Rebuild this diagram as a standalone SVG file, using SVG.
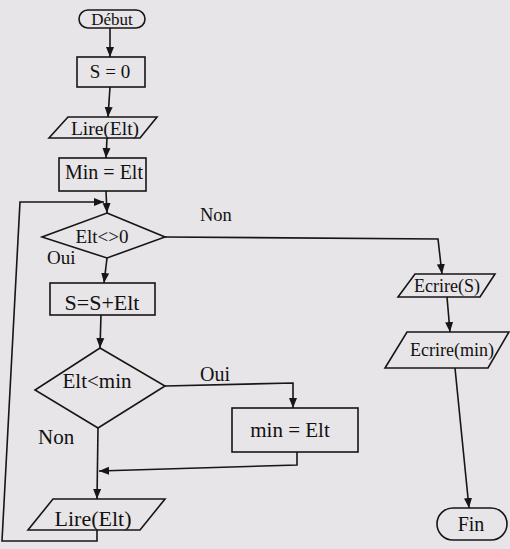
<svg xmlns="http://www.w3.org/2000/svg" width="510" height="549" viewBox="0 0 510 549">
<style>
.bg{fill:#e7e5e7}
.shape{fill:none;stroke:#161616;stroke-width:1.6}
.conn{fill:none;stroke:#161616;stroke-width:1.6}
text{font-family:"Liberation Serif","Times New Roman",serif;fill:#111;text-anchor:middle}
.lbl{text-anchor:start}
</style>
<defs>
<marker id="arr" viewBox="0 0 10 10" refX="10" refY="5" markerWidth="10" markerHeight="10" markerUnits="userSpaceOnUse" orient="auto">
<path d="M0,1 L10,5 L0,9 z" fill="#161616"/>
</marker>
</defs>
<rect class="bg" x="0" y="0" width="510" height="549"/>
<g id="connectors">
<path class="conn" d="M110,28 L110,57" marker-end="url(#arr)"/>
<path class="conn" d="M110,87 L108,117" marker-end="url(#arr)"/>
<path class="conn" d="M107,138 L106,158" marker-end="url(#arr)"/>
<path class="conn" d="M106,191 L107,213" marker-end="url(#arr)"/>
<path class="conn" d="M97,530 L97,541 L2,541 L20,202 L104,202" marker-end="url(#arr)"/>
<path class="conn" d="M107,258 L104,283" marker-end="url(#arr)"/>
<path class="conn" d="M165,237 L438,239 L442,274" marker-end="url(#arr)"/>
<path class="conn" d="M447,297 L450,332" marker-end="url(#arr)"/>
<path class="conn" d="M455,368 L469,508" marker-end="url(#arr)"/>
<path class="conn" d="M101,315 L100,348" marker-end="url(#arr)"/>
<path class="conn" d="M165,386 L293,383 L293,408" marker-end="url(#arr)"/>
<path class="conn" d="M297,452 L297,465 L99,471" marker-end="url(#arr)"/>
<path class="conn" d="M98,428 L97,499" marker-end="url(#arr)"/>
</g>
<g id="labels">
<text class="lbl" x="200" y="221" font-size="18.5">Non</text>
<text class="lbl" x="47" y="264" font-size="19">Oui</text>
<text class="lbl" x="200" y="381" font-size="20">Oui</text>
<text class="lbl" x="38" y="444" font-size="21">Non</text>
</g>
<g id="debut">
<rect class="shape" x="79" y="10" width="66" height="18" rx="9"/>
<text x="112" y="25" font-size="17">Début</text>
</g>
<g id="s0">
<rect class="shape" x="77" y="57" width="68" height="30"/>
<text x="110" y="78" font-size="19">S = 0</text>
</g>
<g id="lire1">
<polygon class="shape" points="68,117 157,117 140,138 49,138"/>
<text x="105" y="135" font-size="19.5">Lire(Elt)</text>
</g>
<g id="minElt">
<rect class="shape" x="59" y="158" width="87" height="33"/>
<text x="104" y="179" font-size="20">Min = Elt</text>
</g>
<g id="test1">
<polygon class="shape" points="107,213 165,237 107,258 42,237"/>
<text x="102" y="243" font-size="19">Elt&lt;&gt;0</text>
</g>
<g id="somme">
<rect class="shape" x="50" y="283" width="105" height="32"/>
<text x="102" y="310" font-size="22">S=S+Elt</text>
</g>
<g id="test2">
<polygon class="shape" points="100,348 165,386 98,428 35,390"/>
<text x="97" y="388" font-size="21">Elt&lt;min</text>
</g>
<g id="minAff">
<rect class="shape" x="232" y="408" width="126" height="44"/>
<text x="290" y="437" font-size="21">min = Elt</text>
</g>
<g id="lire2">
<polygon class="shape" points="53,499 165,499 140,530 28,530"/>
<text x="93" y="526" font-size="22">Lire(Elt)</text>
</g>
<g id="ecrireS">
<polygon class="shape" points="415,274 495,274 480,297 398,297"/>
<text x="447" y="292" font-size="18">Ecrire(S)</text>
</g>
<g id="ecrireMin">
<polygon class="shape" points="407,332 509,332 488,368 385,368"/>
<text x="452" y="356" font-size="18">Ecrire(min)</text>
</g>
<g id="fin">
<rect class="shape" x="437" y="508" width="70" height="32" rx="16"/>
<text x="471" y="531" font-size="20">Fin</text>
</g>
</svg>
